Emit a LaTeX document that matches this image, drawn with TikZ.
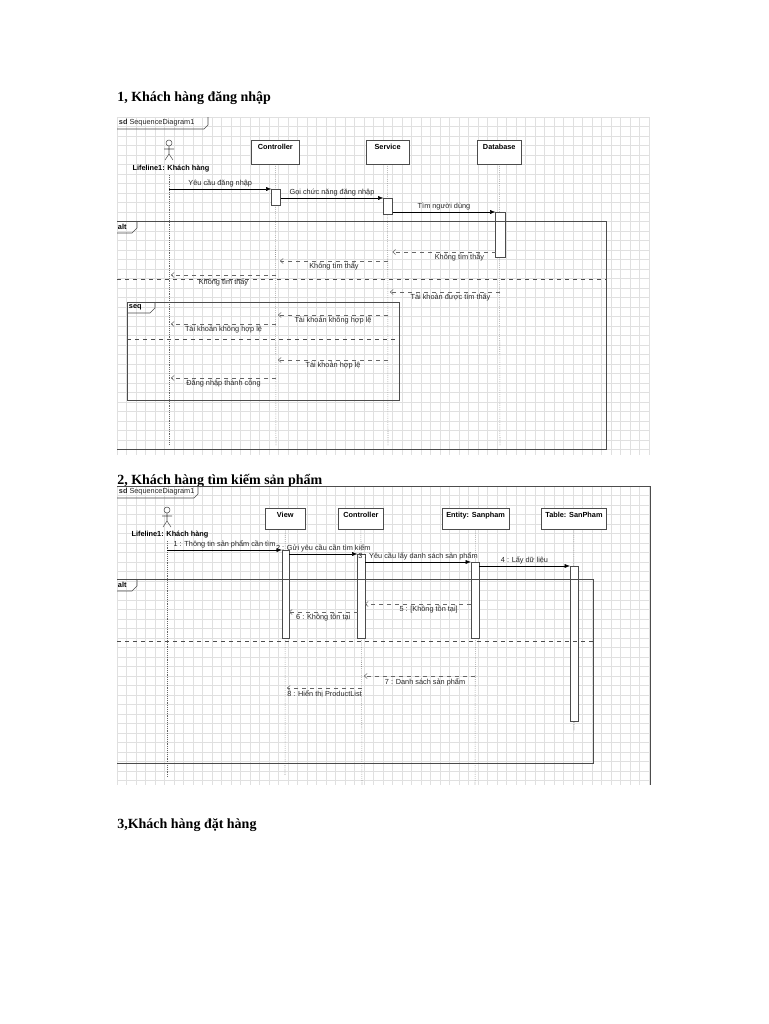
\documentclass[tikz,border=0pt]{standalone}
\usepackage{fontspec}
\setmainfont{Liberation Serif}
\newfontfamily\dfont{Liberation Sans}
\usetikzlibrary{arrows.meta}
\begin{document}
\begin{tikzpicture}[x=0.75pt,y=-0.75pt,
  lbl/.style={font=\dfont\fontsize{5.5}{6}\selectfont,inner sep=0.5pt,text=black!85},
  blbl/.style={font=\dfont\bfseries\fontsize{5.5}{6}\selectfont,inner sep=0.5pt},
  head/.style={font=\bfseries\fontsize{10.5}{12}\selectfont,anchor=base west,inner sep=0},
  obj/.style={draw=black!70,fill=white,font=\dfont\bfseries\fontsize{5.5}{6}\selectfont,anchor=north west,inner xsep=1pt,inner ysep=0pt,text depth=11pt,text height=7pt},
  life/.style={densely dotted,black!60},
  act/.style={draw=black!70,fill=white},
  sync/.style={-{Latex[length=4pt,width=3pt]},black},
  ret/.style={dashed,black!60,-{To[length=2.5pt,width=4pt]}},
  frm/.style={draw=black!70,line width=0.6pt},
  grd/.style={black!12,line width=0.4pt}]
\useasboundingbox (0,0) rectangle (768,1024);
\fill[white] (0,0) rectangle (768,1024);
% headings
\node[head] (h1) at (117,101) {1, Khách hàng đăng nhập};
\node[head] (h2) at (117,484) {2, Khách hàng tìm kiếm sản phẩm};
\node[head] (h3) at (117,828) {3,Khách hàng đặt hàng};
% grids
\begin{scope}
\clip (117,117) rectangle (650,455);
\foreach \i in {0,...,57} {\draw[grd] (117+9.5*\i,117) -- (117+9.5*\i,455);}
\foreach \i in {0,...,36} {\draw[grd] (117,117+9.5*\i) -- (650,117+9.5*\i);}
\end{scope}
\begin{scope}
\clip (117,486) rectangle (650,785);
\foreach \i in {0,...,57} {\draw[grd] (117+9.5*\i,486) -- (117+9.5*\i,785);}
\foreach \i in {0,...,32} {\draw[grd] (117,486+9.5*\i) -- (650,486+9.5*\i);}
\end{scope}
\draw[black!70] (117,486) -- (650,486) -- (650,785);
% ===== Diagram 1 =====
\draw[black!70] (117,129) -- (204,129) -- (208,125) -- (208,117);
\node[lbl,anchor=west] (sd1) at (118,123) {\textbf{sd} SequenceDiagram1};
\draw[black!70] (169,143) circle (3);
\draw[black!70] (169,146) -- (169,154) (164,149) -- (174,149) (169,154) -- (165,160) (169,154) -- (173,160);
\node[blbl] (a1) at (171,169) {Lifeline1: Khách hàng};
\node[obj,minimum width=36pt] (c1) at (251,140) {Controller};
\node[obj,minimum width=32pt] (s1) at (366,140) {Service};
\node[obj,minimum width=33pt] (d1) at (477,140) {Database};
\draw[life] (169,175) -- (169,445);
\draw[life] (c1.south) -- (276,445);
\draw[life] (s1.south) -- (388,445);
\draw[life] (d1.south) -- (500,445);
\draw[act] (271.5,189) rectangle (280.5,205);
\draw[act] (383.5,198) rectangle (392.5,214);
\draw[act] (495.5,212) rectangle (505,257);
\draw[sync] (169,189) -- (271.5,189) node[lbl,midway,above=1pt] {Yêu cầu đăng nhập};
\draw[sync] (280.5,198) -- (383.5,198) node[lbl,midway,above=1pt] {Gọi chức năng đăng nhập};
\draw[sync] (392.5,212) -- (495.5,212) node[lbl,midway,above=1pt] {Tìm người dùng};
\draw[frm] (117,221) -- (606,221) -- (606,449) -- (117,449);
\draw[black!70] (117,233) -- (132,233) -- (137,228) -- (137,221);
\node[blbl,anchor=west] (alt1) at (117,227) {alt};
\draw[dashed,black!70,line width=0.6pt] (117,279) -- (606,279);
\draw[ret] (495.5,252) -- (392.5,252) node[lbl,pos=0.35,below=1pt] {Không tìm thấy};
\draw[ret] (388,261) -- (280,261) node[lbl,midway,below=1pt] {Không tìm thấy};
\draw[ret] (276,275) -- (171,275) node[lbl,midway,below=2pt] {Không tìm thấy};
\draw[ret] (500,292) -- (390,292) node[lbl,pos=0.45,below=1pt] {Tài khoản được tìm thấy};
\draw[frm] (127,302) rectangle (399,400);
\draw[black!70] (127,313) -- (150,313) -- (155,308) -- (155,302);
\node[blbl,anchor=west] (seq1) at (128,307) {seq};
\draw[dashed,black!70,line width=0.6pt] (127,339) -- (399,339);
\draw[ret] (388,315) -- (278,315) node[lbl,midway,below=1pt] {Tài khoản không hợp lệ};
\draw[ret] (276,324) -- (171,324) node[lbl,midway,below=1pt] {Tài khoản không hợp lệ};
\draw[ret] (388,360) -- (278,360) node[lbl,midway,below=1pt] {Tài khoản hợp lệ};
\draw[ret] (276,378) -- (171,378) node[lbl,midway,below=1pt] {Đăng nhập thành công};
% ===== Diagram 2 =====
\draw[black!70] (117,498) -- (194,498) -- (198,494) -- (198,486);
\node[lbl,anchor=west] (sd2) at (118,492) {\textbf{sd} SequenceDiagram1};
\draw[black!70] (167,510) circle (3);
\draw[black!70] (167,513) -- (167,521) (162,516) -- (172,516) (167,521) -- (163,527) (167,521) -- (171,527);
\node[blbl] (a2) at (170,535) {Lifeline1: Khách hàng};
\node[obj,minimum width=30pt,text depth=9pt] (v2) at (265,508) {View};
\node[obj,minimum width=34pt,text depth=9pt] (c2) at (338,508) {Controller};
\node[obj,minimum width=50pt,text depth=9pt] (e2) at (442,508) {Entity: Sanpham};
\node[obj,minimum width=49pt,text depth=9pt] (t2) at (541,508) {Table: SanPham};
\draw[life] (167,541) -- (167,778);
\draw[life] (v2.south) -- (285,775);
\draw[life] (c2.south) -- (362,785);
\draw[life] (e2.south) -- (475,785);
\draw[life] (t2.south) -- (574,730);
\draw[act] (282,550) rectangle (289,638);
\draw[act] (357.5,554) rectangle (365,638);
\draw[act] (471,562) rectangle (479,638);
\draw[act] (570,566) rectangle (578,721);
\draw[sync] (167,550) -- (282,550) node[lbl,midway,above=1pt] {1 : Thông tin sản phẩm cần tìm};
\draw[sync] (289,554) -- (357.5,554) node[lbl,midway,above=1pt] {2 : Gửi yêu cầu cần tìm kiếm};
\draw[sync] (365,562) -- (471,562) node[lbl,midway,above=1pt] {3 : Yêu cầu lấy danh sách sản phẩm};
\draw[sync] (479,566) -- (570,566) node[lbl,midway,above=1pt] {4 : Lấy dữ liệu};
\draw[frm] (117,579) -- (593,579) -- (593,763) -- (117,763);
\draw[black!70] (117,591) -- (132,591) -- (137,586) -- (137,579);
\node[blbl,anchor=west] (alt2) at (117,585) {alt};
\draw[dashed,black!70,line width=0.6pt] (117,641) -- (593,641);
\draw[ret] (471,604) -- (365,604) node[lbl,pos=0.4,below=1pt] {5 : [Không tồn tại]};
\draw[ret] (357.5,612) -- (289,612) node[lbl,midway,below=1pt] {6 : Không tồn tại};
\draw[ret] (475,676) -- (364,676) node[lbl,pos=0.45,below=1pt] {7 : Danh sách sản phẩm};
\draw[ret] (362,688) -- (287,688) node[lbl,midway,below=1pt] {8 : Hiển thị ProductList};
\end{tikzpicture}
\end{document}
